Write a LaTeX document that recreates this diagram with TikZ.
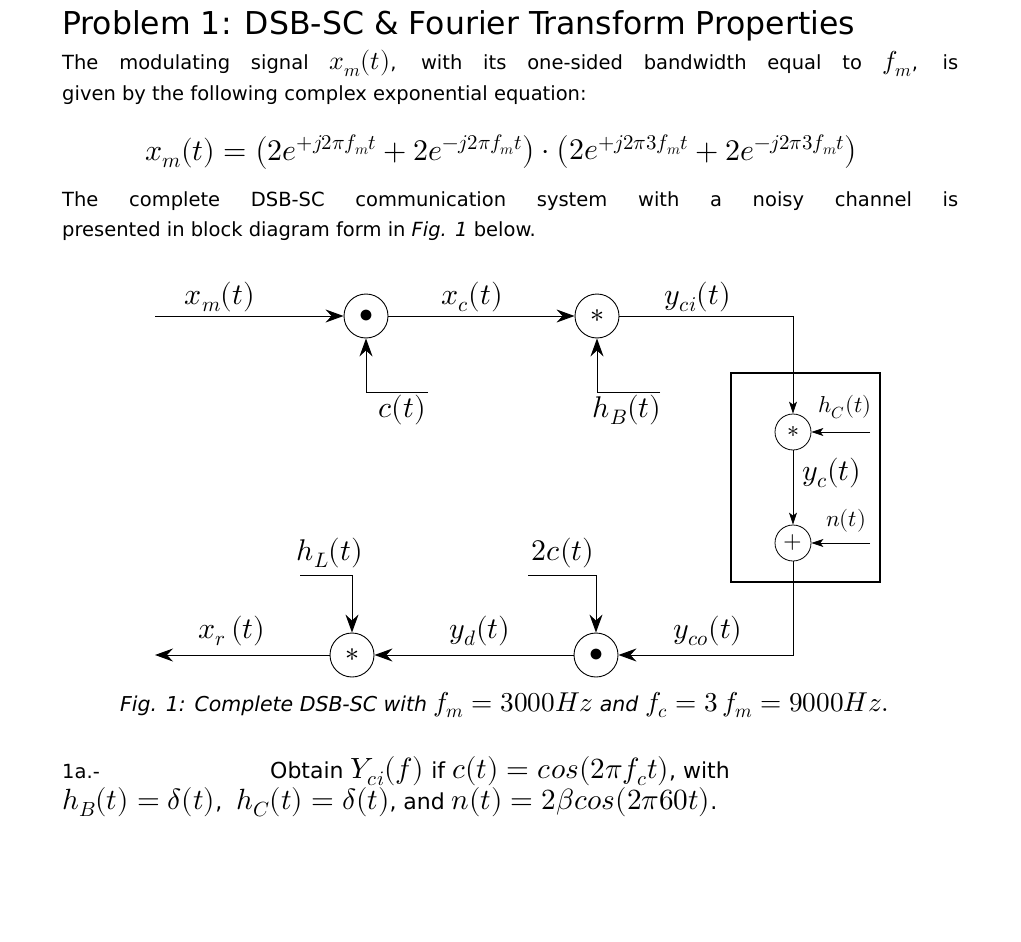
\documentclass[tikz,border=0pt]{standalone}
\usepackage{unicode-math}
\setmainfont{DejaVu Sans}
\setmathfont{Latin Modern Math}[Scale=1.33]
\usetikzlibrary{arrows.meta}
\begin{document}
\begin{tikzpicture}[x=1pt,y=-1pt,
  txt/.style={anchor=base west,inner sep=0pt,font=\fontsize{19.5}{24}\selectfont},
  lab/.style={inner sep=0pt,font=\fontsize{22.5}{26}\selectfont},
  op/.style={circle,draw,line width=0.9pt,minimum size=44pt,inner sep=0pt,font=\fontsize{21}{24}\selectfont},
  sop/.style={circle,draw,line width=0.8pt,minimum size=36pt,inner sep=0pt,font=\fontsize{18}{20}\selectfont},
  big/.style={line width=0.9pt,-{Stealth[length=18pt,width=13pt,inset=6pt]}},
  sm/.style={line width=0.8pt,-{Stealth[length=12pt,width=8pt,inset=3pt]}}]
\useasboundingbox (0,0) rectangle (1021,942);
\node[txt,font=\fontsize{31.5}{34}\selectfont] (title) at (62,35) {Problem 1: DSB-SC \& Fourier Transform Properties};
\node[txt] (l1) at (62,70) {\makebox[896pt][s]{The modulating signal $x_m(t)$, with its one-sided bandwidth equal to $f_m$, is}};
\node[txt] (l2) at (62,100) {given by the following complex exponential equation:};
\node[txt,font=\fontsize{22.5}{26}\selectfont] (eq) at (145,160) {$x_m(t) = \bigl(2e^{+j2\pi f_mt} + 2e^{-j2\pi f_mt}\bigr)\cdot\bigl(2e^{+j2\pi 3f_mt} + 2e^{-j2\pi 3f_mt}\bigr)$};
\node[txt] (l3) at (62,206) {\makebox[896pt][s]{The complete DSB-SC communication system with a noisy channel is}};
\node[txt] (l4) at (62,236) {presented in block diagram form in \textit{Fig. 1} below.};
% diagram
\node[op] (m1) at (366,316) {$\bullet$};
\node[op] (c1) at (597,316) {$*$};
\node[sop] (c2) at (793,432) {$*$};
\node[sop] (p1) at (793,543) {$+$};
\node[op] (m2) at (596,655) {$\bullet$};
\node[op] (c3) at (352,655) {$*$};
\draw[line width=2.2pt] (731,373) rectangle (880,582);
\coordinate (in) at (155,316);
\coordinate (out) at (155,655);
\coordinate (cc) at (428,392);
\coordinate (hb) at (660,392);
\coordinate (tr) at (793,316);
\coordinate (br) at (793,655);
\coordinate (hc) at (870,432);
\coordinate (nn) at (870,543);
\coordinate (hl) at (300,575);
\coordinate (dc) at (528,575);
\draw[big] (in) -- (m1);
\draw[big] (m1) -- (c1);
\draw[sm] (c1) -- (tr) -- (c2);
\draw[sm] (c2) -- (p1);
\draw[big] (p1) -- (br) -- (m2);
\draw[big] (m2) -- (c3);
\draw[big] (c3) -- (out);
\draw[big] (cc) -- (366,392) -- (m1);
\draw[big] (hb) -- (597,392) -- (c1);
\draw[sm] (hc) -- (c2);
\draw[sm] (nn) -- (p1);
\draw[big] (hl) -- (352,575) -- (c3);
\draw[big] (dc) -- (596,575) -- (m2);
\node[lab] (lxm) at (220,297) {$x_m(t)$};
\node[lab] (lxc) at (472,297) {$x_c(t)$};
\node[lab] (lyci) at (698,297) {$y_{ci}(t)$};
\node[lab] (lc) at (402,410) {$c(t)$};
\node[lab] (lhb) at (627,410) {$h_B(t)$};
\node[lab,font=\fontsize{17.3}{20}\selectfont] (lhc) at (845,407) {$h_C(t)$};
\node[lab] (lyc) at (832,473) {$y_c(t)$};
\node[lab,font=\fontsize{17.3}{20}\selectfont] (ln) at (846,521) {$n(t)$};
\node[lab] (lhl) at (330,553) {$h_L(t)$};
\node[lab] (l2c) at (563,553) {$2c(t)$};
\node[lab] (lxr) at (232,631) {$x_r\,(t)$};
\node[lab] (lyd) at (480,631) {$y_d(t)$};
\node[lab] (lyco) at (708,631) {$y_{co}(t)$};
\node[txt,font=\fontsize{20.5}{22}\selectfont] (cap) at (120,711) {\textit{Fig. 1: Complete DSB-SC with} $f_m = 3000Hz$ \textit{and} $f_c = 3\,f_m = 9000Hz.$};
\node[txt] (a1) at (62,778) {1a.-};
\node[txt,font=\fontsize{22}{24}\selectfont] (a2) at (270,778) {Obtain $Y_{ci}(f)$ if $c(t)=cos(2\pi f_ct)$, with};
\node[txt,font=\fontsize{22}{24}\selectfont] (a3) at (62,809) {$h_B(t)=\delta(t)$,\ \ $h_C(t)=\delta(t)$, and $n(t)=2\beta cos(2\pi 60t)$.};
\end{tikzpicture}
\end{document}
